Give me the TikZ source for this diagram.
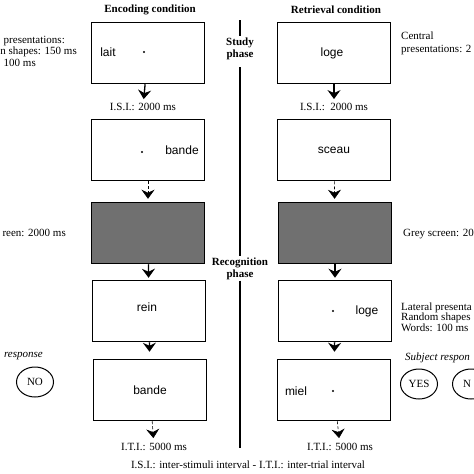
\documentclass[tikz,border=0pt]{standalone}
\usepackage{fontspec}
\setmainfont{Liberation Serif}
\newfontfamily\wordfont{Liberation Sans}
\usetikzlibrary{arrows.meta,shapes.geometric}

\tikzset{
  screen/.style={draw, line width=1.5pt, minimum width=113pt, minimum height=61pt, inner sep=0pt},
  grey/.style={screen, fill=black!56},
  word/.style={font=\wordfont\fontsize{12}{12}\selectfont, inner sep=0pt},
  fix/.style={circle, fill=black, inner sep=0pt, minimum size=2.2pt},
  lbl/.style={font=\fontsize{11}{11}\selectfont, inner sep=0pt},
  info/.style={lbl, anchor=west},
  infoL/.style={lbl, anchor=east},
  resptxt/.style={font=\itshape\fontsize{11}{11}\selectfont, inner sep=0pt},
  head/.style={font=\bfseries\fontsize{11}{12}\selectfont, inner sep=0pt, align=center},
  go/.style={-{Stealth[length=9pt,width=13pt,inset=3pt]}, line width=1.3pt, shorten >=3pt},
  godash/.style={go, line width=0.6pt, densely dashed},
  resp/.style={ellipse, draw, line width=1pt, minimum width=37pt, minimum height=30pt, inner sep=0pt, font=\fontsize{11}{11}\selectfont},
}

\begin{document}
\begin{tikzpicture}[x=1pt, y=-1pt]
  \useasboundingbox (0,0) rectangle (474,474);
  \clip (0,0) rectangle (474,474);

  % Headings
  \node[head] (encH) at (150,10) {Encoding condition};
  \node[head] (retH) at (336,10) {Retrieval condition};

  % Encoding screens
  \node[screen] (E1) at (148,53) {};
  \node[screen] (E2) at (148,150) {};
  \node[grey] (E3) at (148,233) {};
  \node[screen] (E4) at (149,311) {};
  \node[screen] (E5) at (150,390) {};
  \node[word] (wE1) at (108,52) {lait};
  \node[fix] (fE1) at (144,52) {};
  \node[word] (wE2) at (182,150) {bande};
  \node[fix] (fE2) at (142,152) {};
  \node[word] (wE4) at (147,307) {rein};
  \node[word] (wE5) at (150,390) {bande};

  % Retrieval screens
  \node[screen] (R1) at (334,53) {};
  \node[screen] (R2) at (334,150) {};
  \node[grey] (R3) at (335,233) {};
  \node[screen] (R4) at (335,311) {};
  \node[screen] (R5) at (334,390) {};
  \node[word] (wR1) at (332,53) {loge};
  \node[word] (wR2) at (334,150) {sceau};
  \node[word] (wR4) at (367,311) {loge};
  \node[fix] (fR4) at (333,311) {};
  \node[word] (wR5) at (296,391) {miel};
  \node[fix] (fR5) at (333,391) {};

  % Intervals
  \node[lbl] (isiE) at (143,107) {I.S.I.: 2000 ms};
  \node[lbl] (isiR) at (334,107) {I.S.I.:\ \ 2000 ms};
  \node[lbl] (itiE) at (154,447) {I.T.I.: 5000 ms};
  \node[lbl] (itiR) at (340,447) {I.T.I.: 5000 ms};
  \node[lbl] (note) at (248,465) {I.S.I.: inter-stimuli interval - I.T.I.: inter-trial interval};

  % Side notes, left
  \node[infoL] (encInfoA) at (65,41) {presentations:};
  \node[infoL] (encInfoB) at (77,52) {n shapes: 150 ms};
  \node[infoL] (encInfoC) at (36,63) {100 ms};
  \node[infoL] (encGrey) at (66,233) {reen: 2000 ms};
  \node[resptxt, anchor=east] (encResp) at (43,356) {response};
  \node[resp] (noE) at (35,382) {NO};

  % Side notes, right
  \node[info] (retCentralA) at (401,36) {Central};
  \node[info] (retCentralB) at (401,50) {presentations: 2};
  \node[info] (retGrey) at (403,234) {Grey screen: 20};
  \node[info] (retInfoA) at (401,308) {Lateral presenta};
  \node[info] (retInfoB) at (401,318) {Random shapes};
  \node[info] (retInfoC) at (401,328) {Words: 100 ms};
  \node[resptxt, anchor=west] (retResp) at (405,358) {Subject respon};
  \node[resp] (yesR) at (419,384) {YES};
  \node[resp] (noR) at (471,384) {};
  \node[lbl] (noRtxt) at (467,384) {N};

  % Phases
  \coordinate (divT) at (240,20);
  \coordinate (divB) at (240,448);
  \node[head, inner sep=2pt] (study) at (240,49) {Study\\phase};
  \node[head, inner sep=1pt] (recog) at (240,268.5) {Recognition\\phase};
  \draw[line width=2.5pt] (divT) -- (study);
  \draw[line width=2.5pt, shorten <=5pt] (study) -- (recog);
  \draw[line width=2.5pt] (recog) -- (divB);

  % Arrows
  \draw[go, shorten >=4pt] (E1) -- (isiE);
  \draw[godash] (E2) -- (E3);
  \draw[go, shorten >=2pt] (E3) -- (E4);
  \draw[go, shorten >=7pt] (E4) -- (E5);
  \draw[godash, shorten >=5pt] (E5) -- (itiE);
  \draw[go, shorten >=4pt] (R1) -- (isiR);
  \draw[godash] (R2) -- (R3);
  \draw[go, shorten >=2pt] (R3) -- (R4);
  \draw[go, shorten >=7pt] (R4) -- (R5);
  \draw[godash, shorten >=5pt] (R5) -- (itiR);
\end{tikzpicture}
\end{document}
